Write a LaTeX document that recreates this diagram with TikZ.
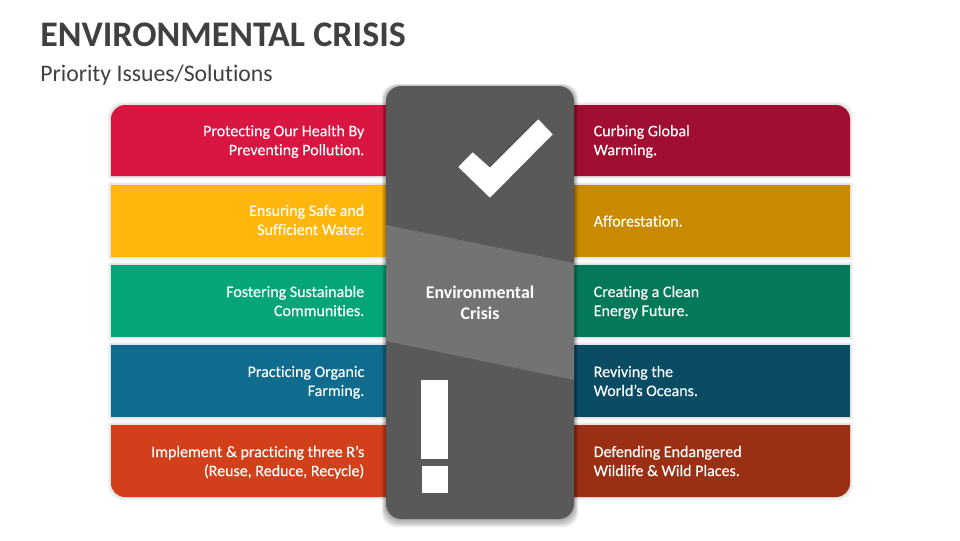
\documentclass[tikz,border=0pt]{standalone}
\usepackage{fontspec}
\setmainfont[Ligatures=NoCommon]{Carlito}
\usetikzlibrary{calc}
\definecolor{cA}{HTML}{D91642}\definecolor{dA}{HTML}{A00F31}
\definecolor{cB}{HTML}{FFB60D}\definecolor{dB}{HTML}{C88A00}
\definecolor{cC}{HTML}{05A57A}\definecolor{dC}{HTML}{04795A}
\definecolor{cD}{HTML}{0F6C8E}\definecolor{dD}{HTML}{0A4C64}
\definecolor{cE}{HTML}{D1401A}\definecolor{dE}{HTML}{9A2F14}
\definecolor{panel}{HTML}{595959}\definecolor{band}{HTML}{737373}
\definecolor{titlecol}{HTML}{404040}
\newfontfamily\rowfont[Ligatures=NoCommon,FakeBold=0.25]{Carlito}
\tikzset{
  x=0.75pt,y=-0.75pt,
  rowtext/.style={text=white,font=\fontsize{12}{14.25}\rowfont,execute at begin node=\strut,execute at end node=\strut},
  lefttext/.style={rowtext,anchor=east,align=right},
  righttext/.style={rowtext,anchor=west,align=left},
  softshadow/.style={fill=black,fill opacity=0.04,draw=none},
}
\begin{document}
\begin{tikzpicture}
\useasboundingbox (0,0) rectangle (960,540);
\node[anchor=west,inner sep=0,text=titlecol,font=\fontsize{27}{30}\selectfont\bfseries] (title) at (40,34.5) {ENVIRONMENTAL CRISIS};
\node[anchor=west,inner sep=0,text=titlecol,font=\fontsize{17.8}{20}\selectfont] (subtitle) at (40,75) {Priority Issues/Solutions};
% row shadows
\foreach \o in {1,2,3}{
  \foreach \t/\b in {185/257,265/337,345/417}{
    \fill[softshadow] (111-\o,\t-\o) rectangle (850+\o,\b+\o);
  }
  \fill[softshadow,rounded corners=10.5pt] (111-\o,176+\o) [sharp corners] -- (111-\o,150) [rounded corners=10.5pt] -- (111-\o,105-\o) -- (850+\o,105-\o) -- (850+\o,150) [sharp corners] -- (850+\o,176+\o) -- cycle;
  \fill[softshadow,rounded corners=10.5pt] (111-\o,425-\o) [sharp corners] -- (111-\o,450) [rounded corners=10.5pt] -- (111-\o,497+\o) -- (850+\o,497+\o) -- (850+\o,450) [sharp corners] -- (850+\o,425-\o) -- cycle;
}
% left rows
\fill[cA,rounded corners=10.5pt] (386,105) -- (111,105) -- (111,150) [sharp corners] -- (111,176) -- (386,176) -- cycle;
\fill[cB] (111,185) rectangle (386,257);
\fill[cC] (111,265) rectangle (386,337);
\fill[cD] (111,345) rectangle (386,417);
\fill[cE,rounded corners=10.5pt] (386,497) -- (111,497) -- (111,450) [sharp corners] -- (111,425) -- (386,425) -- cycle;
% right rows
\fill[dA,rounded corners=10.5pt] (574,105) -- (850,105) -- (850,150) [sharp corners] -- (850,176) -- (574,176) -- cycle;
\fill[dB] (574,185) rectangle (850,257);
\fill[dC] (574,265) rectangle (850,337);
\fill[dD] (574,345) rectangle (850,417);
\fill[dE,rounded corners=10.5pt] (574,497) -- (850,497) -- (850,450) [sharp corners] -- (850,425) -- (574,425) -- cycle;
% panel shadow
\foreach \o in {1,...,7}{
  \fill[fill=black,fill opacity=0.055,rounded corners=11.5pt] (386-\o*0.6,86-\o*0.5+1) rectangle (574+\o*0.6,519+\o*1.2);
}
% panel
\fill[panel,rounded corners=11.5pt] (386,86) rectangle (574,519);
\fill[band] (386,225) -- (574,263) -- (574,380) -- (386,341) -- cycle;
% check mark and exclamation mark
\fill[white] (538.3,119.3) -- (552.7,134.3) -- (490,197.7) -- (458.3,167) -- (472.7,152.3) -- (490,167.7) -- cycle;
\fill[white] (421,380) rectangle (448,458.7);
\fill[white] (422,466) rectangle (448,492.7);
% texts
\node[text=white,align=center,font=\fontsize{13.4}{15.8}\selectfont\bfseries] (centre) at (480,302.5) {Environmental\\Crisis};
\node[lefttext] (l1) at (369,143) {Protecting Our Health By\\Preventing Pollution.};
\node[lefttext] (l2) at (369,222.7) {Ensuring Safe and\\Sufficient Water.};
\node[lefttext] (l3) at (369,303.8) {Fostering Sustainable\\Communities.};
\node[lefttext] (l4) at (369,383.8) {Practicing Organic\\Farming.};
\node[lefttext] (l5) at (369,463.8) {Implement \& practicing three R’s\\(Reuse, Reduce, Recycle)};
\node[righttext] (r1) at (589,143) {Curbing Global\\Warming.};
\node[righttext] (r2) at (589,222.7) {Afforestation.};
\node[righttext] (r3) at (589,303.8) {Creating a Clean\\Energy Future.};
\node[righttext] (r4) at (589,383.8) {Reviving the\\World’s Oceans.};
\node[righttext] (r5) at (589,463.8) {Defending Endangered\\Wildlife \& Wild Places.};
\end{tikzpicture}
\end{document}
